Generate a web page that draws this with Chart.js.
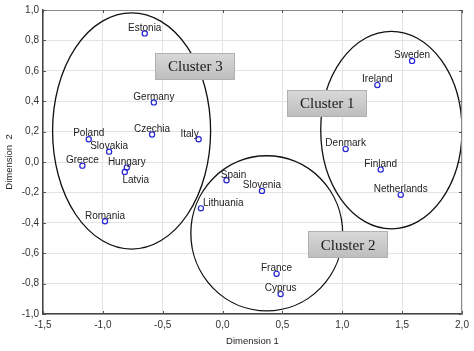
<!DOCTYPE html>
<html>
<head>
<meta charset="utf-8">
<script src="https://cdn.jsdelivr.net/npm/chart.js@4/dist/chart.umd.min.js"></script>
<style>
  html, body { margin: 0; padding: 0; background: #fff; }
  #wrap { width: 474px; height: 351px; }
</style>
</head>
<body>
<div id="wrap"><canvas id="chart" width="474" height="351"></canvas></div>
<script>
// country scores on the two dimensions
const countries = ["Estonia", "Germany", "Czechia", "Italy", "Poland", "Slovakia", "Greece", "Hungary", "Latvia", "Romania",
  "Lithuania", "Spain", "Slovenia", "France", "Cyprus", "Netherlands", "Sweden", "Ireland", "Denmark", "Finland"];
const dim1 = [-0.65, -0.574, -0.589, -0.20, -1.118, -0.948, -1.171, -0.80, -0.817, -0.982,
  -0.181, 0.033, 0.329, 0.451, 0.485, 1.488, 1.583, 1.293, 1.028, 1.321];
const dim2 = [0.846, 0.392, 0.181, 0.15, 0.15, 0.068, -0.024, -0.037, -0.065, -0.39,
  -0.305, -0.12, -0.19, -0.736, -0.869, -0.216, 0.665, 0.506, 0.085, -0.05];

// cluster ellipses (centre, radii in data units) and their label boxes
const clusterNames = ["Cluster 1", "Cluster 2", "Cluster 3"];
const clusterCx = [1.41, 0.369, -0.76];
const clusterCy = [0.21, -0.469, 0.204];
const clusterRx = [0.59, 0.634, 0.66];
const clusterRy = [0.65, 0.51, 0.777];
const clusterLabelX = [0.875, 1.049, -0.227];
const clusterLabelY = [0.388, -0.544, 0.629];

// a few labels sit off the usual spot above the marker
const labelNudge = {
  Italy: { dx: -9, dy: 1, align: "center" },
  Latvia: { dx: 11, dy: 14, align: "center" },
  Lithuania: { dx: 2, dy: 0, align: "left" },
  Spain: { dx: 7, dy: 1, align: "center" },
};

const fmt = v => (Math.round(v * 10) / 10).toFixed(1).replace(".", ",").replace("-0,0", "0,0");

const points = dim1.map((x, i) => ({ x: x, y: dim2[i] }));

const backgroundPlugin = {
  id: "bg",
  beforeDraw(chart) {
    const ctx = chart.ctx;
    ctx.save();
    ctx.fillStyle = "#fff";
    ctx.fillRect(0, 0, chart.width, chart.height);
    ctx.restore();
  },
};

const framePlugin = {
  id: "frame",
  afterDatasetsDraw(chart) {
    const ctx = chart.ctx;
    const a = chart.chartArea;
    const xs = chart.scales.x, ys = chart.scales.y;
    ctx.save();
    // ellipses
    ctx.beginPath();
    ctx.rect(a.left, a.top, a.right - a.left, a.bottom - a.top);
    ctx.clip();
    ctx.strokeStyle = "#111";
    ctx.lineWidth = 1.3;
    clusterCx.forEach((cx, i) => {
      const px = xs.getPixelForValue(cx), py = ys.getPixelForValue(clusterCy[i]);
      const rx = Math.abs(xs.getPixelForValue(cx + clusterRx[i]) - px);
      const ry = Math.abs(ys.getPixelForValue(clusterCy[i] + clusterRy[i]) - py);
      ctx.beginPath();
      ctx.ellipse(px, py, rx, ry, 0, 0, Math.PI * 2);
      ctx.stroke();
    });
    ctx.restore();

    // country labels
    ctx.save();
    ctx.font = '10px "Liberation Sans", Arial, sans-serif';
    ctx.fillStyle = "#222";
    ctx.textBaseline = "middle";
    const meta = chart.getDatasetMeta(0);
    meta.data.forEach((el, i) => {
      const n = labelNudge[countries[i]] || { dx: 0, dy: 0, align: "center" };
      ctx.textAlign = n.align;
      ctx.fillText(countries[i], el.x + n.dx, el.y - 5.5 + n.dy);
    });
    ctx.restore();

    // cluster boxes
    ctx.save();
    clusterNames.forEach((name, i) => {
      const cx = xs.getPixelForValue(clusterLabelX[i]), cy = ys.getPixelForValue(clusterLabelY[i]);
      const w = 80, h = 27;
      const x0 = Math.round(cx - w / 2), y0 = Math.round(cy - h / 2);
      const g = ctx.createLinearGradient(0, y0, 0, y0 + h);
      g.addColorStop(0, "#d9d9d9");
      g.addColorStop(1, "#bdbdbd");
      ctx.fillStyle = g;
      ctx.fillRect(x0, y0, w, h);
      ctx.strokeStyle = "#b0b0b0";
      ctx.lineWidth = 1;
      ctx.strokeRect(x0 + 0.5, y0 + 0.5, w - 1, h - 1);
      ctx.font = '15px "Liberation Serif", "Times New Roman", serif';
      ctx.fillStyle = "#1a1a1a";
      ctx.textAlign = "center";
      ctx.textBaseline = "middle";
      ctx.fillText(name, cx, cy + 1);
    });
    ctx.restore();

    // top/right frame and inward tick marks
    ctx.save();
    ctx.strokeStyle = "#8a8a8a";
    ctx.lineWidth = 1;
    ctx.beginPath();
    ctx.moveTo(a.left, a.top + 0.5);
    ctx.lineTo(a.right - 0.5, a.top + 0.5);
    ctx.lineTo(a.right - 0.5, a.bottom);
    ctx.stroke();
    ctx.strokeStyle = "#555";
    ctx.beginPath();
    xs.ticks.forEach(t => {
      const p = Math.round(xs.getPixelForValue(t.value)) + 0.5;
      ctx.moveTo(p, a.bottom); ctx.lineTo(p, a.bottom - 3);
      ctx.moveTo(p, a.top); ctx.lineTo(p, a.top + 3);
    });
    ys.ticks.forEach(t => {
      const p = Math.round(ys.getPixelForValue(t.value)) + 0.5;
      ctx.moveTo(a.left, p); ctx.lineTo(a.left + 3, p);
      ctx.moveTo(a.right, p); ctx.lineTo(a.right - 3, p);
    });
    ctx.stroke();
    ctx.restore();
  },
};

const tickFont = { family: '"Liberation Sans", Arial, sans-serif', size: 10 };
const titleFont = { family: '"Liberation Sans", Arial, sans-serif', size: 9.5 };

new Chart(document.getElementById("chart").getContext("2d"), {
  type: "scatter",
  data: {
    datasets: [{
      data: points,
      pointRadius: 2.6,
      pointHoverRadius: 2.6,
      pointBorderWidth: 1.2,
      pointBorderColor: "#2424d8",
      pointBackgroundColor: "rgba(255,255,255,0)",
    }],
  },
  options: {
    responsive: false,
    animation: false,
    events: [],
    layout: { padding: { left: 0, top: 8, right: 12, bottom: 0 } },
    plugins: { legend: { display: false }, tooltip: { enabled: false } },
    scales: {
      x: {
        type: "linear",
        min: -1.5,
        max: 2.0,
        afterFit: s => { s.height = 37; },
        ticks: { stepSize: 0.5, color: "#333", font: tickFont, padding: 5, callback: v => fmt(v), maxRotation: 0 },
        grid: { color: "#e4e4e4", drawTicks: false },
        border: { color: "#444", width: 1.5 },
        title: { display: true, text: "Dimension 1", color: "#222", font: titleFont, padding: { top: 4, bottom: 4 } },
      },
      y: {
        type: "linear",
        min: -1.0,
        max: 1.0,
        afterFit: s => { s.width = 43; },
        ticks: { stepSize: 0.2, color: "#333", font: tickFont, padding: 4, callback: v => fmt(v) },
        grid: { color: "#e4e4e4", drawTicks: false },
        border: { color: "#444", width: 1.5 },
        title: { display: true, text: "Dimension  2", color: "#222", font: titleFont, padding: { top: 4, bottom: 4 } },
      },
    },
  },
  plugins: [backgroundPlugin, framePlugin],
});
</script>
</body>
</html>
